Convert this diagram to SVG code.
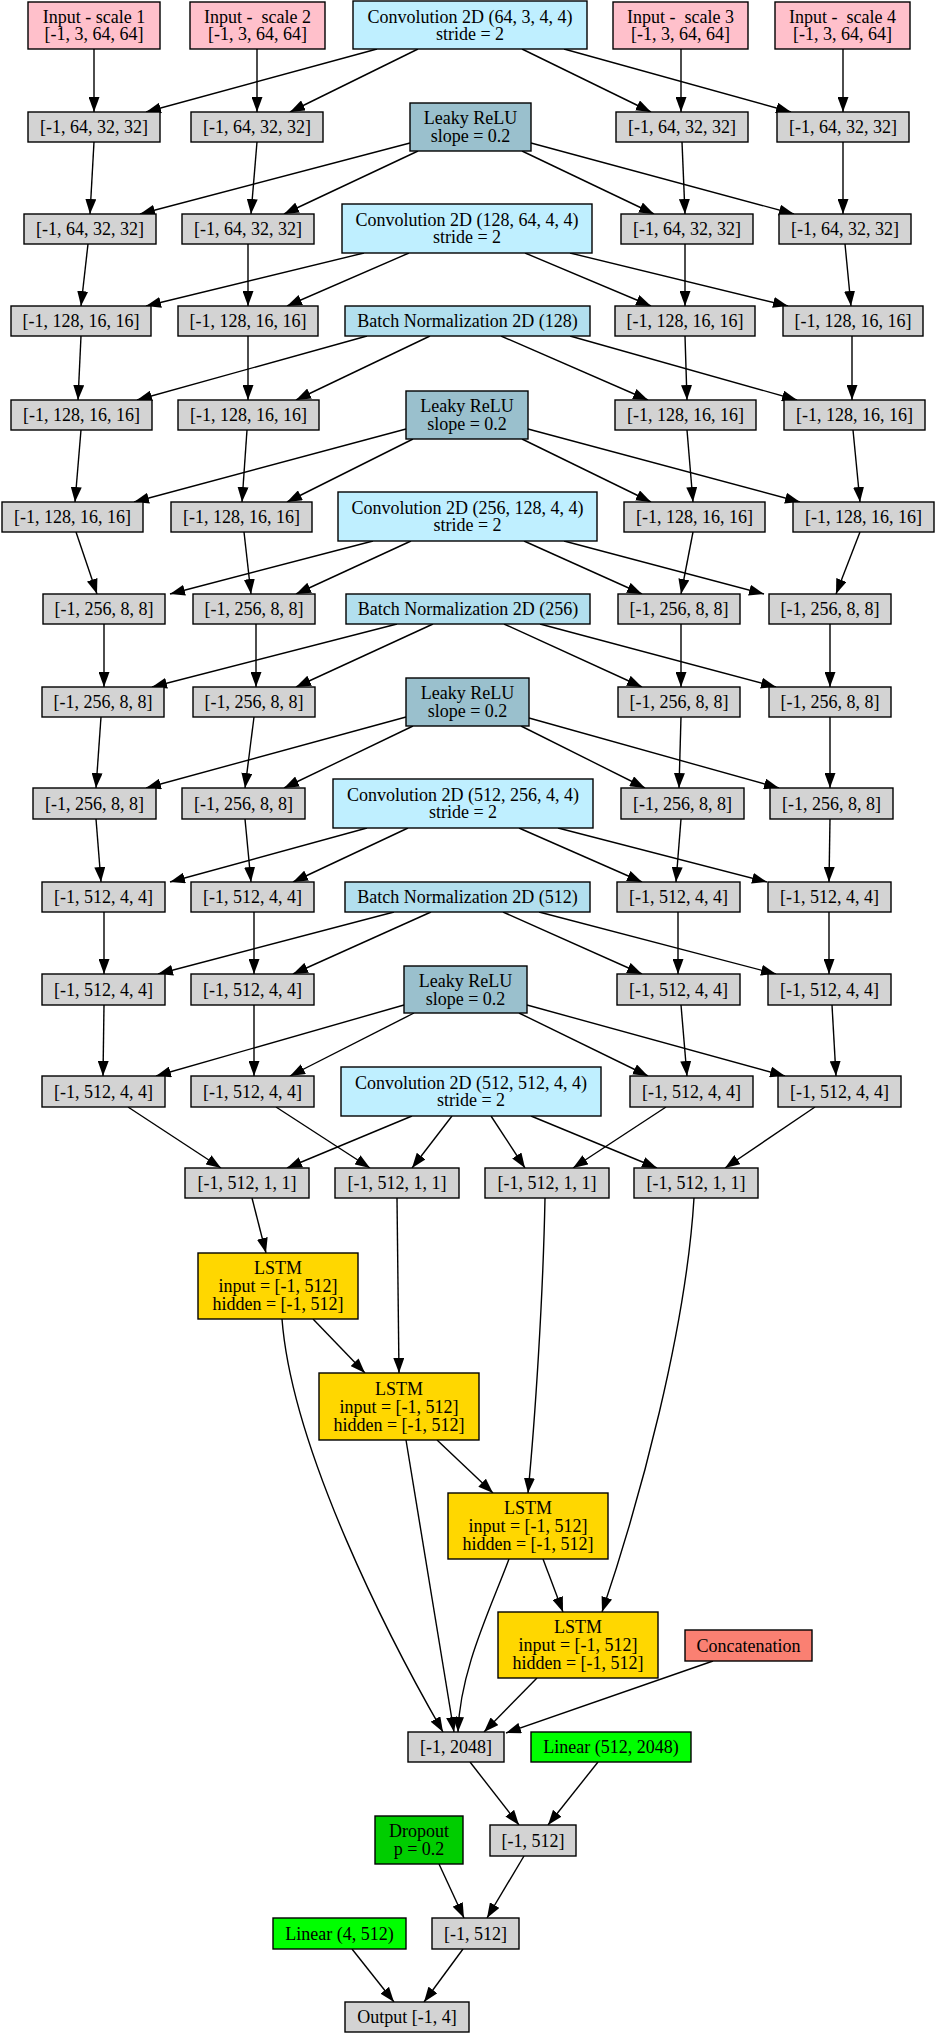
<svg xmlns="http://www.w3.org/2000/svg" width="936" height="2037" viewBox="0 0 936 2037">
<style>
rect{stroke:#000;stroke-width:1.4}
rect.bg{stroke:none;fill:#fff}
text{font-family:"Liberation Serif","Times New Roman",serif;font-size:18px;text-anchor:middle;dominant-baseline:central;fill:#000;white-space:pre}
.g{fill:#d3d3d3}.p{fill:#ffc0cb}.cv{fill:#bfefff}.bn{fill:#b2dfee}.lr{fill:#9ac0cd}.ls{fill:#ffd700}.ct{fill:#fa8072}.li{fill:#00ff00}.dr{fill:#00cd00}
#edges line,#edges path{stroke:#000;stroke-width:1.4;fill:none;marker-end:url(#ah)}
</style>
<defs><marker id="ah" markerUnits="userSpaceOnUse" markerWidth="15" markerHeight="11" viewBox="0 0 15 11" refX="15" refY="5.5" orient="auto"><path d="M0,0 L15,5.5 L0,11 z" fill="#000"/></marker></defs>
<rect class="bg" x="0" y="0" width="936" height="2037"/>
<g id="edges">
<line x1="94" y1="49" x2="94" y2="112"/><line x1="257" y1="49" x2="257" y2="112"/><line x1="681" y1="49" x2="681" y2="112"/><line x1="843" y1="49" x2="843" y2="112"/>
<line x1="377" y1="49" x2="146" y2="112"/><line x1="418" y1="49" x2="290" y2="112"/><line x1="522" y1="49" x2="651" y2="112"/><line x1="564" y1="49" x2="791" y2="112"/>
<line x1="94" y1="142" x2="90" y2="214"/><line x1="257" y1="142" x2="251" y2="214"/><line x1="682" y1="142" x2="685" y2="214"/><line x1="843" y1="142" x2="843" y2="214"/>
<line x1="410" y1="143" x2="140" y2="214"/><line x1="418" y1="151" x2="284" y2="214"/><line x1="522" y1="151" x2="654" y2="214"/><line x1="531" y1="143" x2="794" y2="214"/>
<line x1="88" y1="244" x2="81" y2="306"/><line x1="248" y1="244" x2="248" y2="306"/><line x1="685" y1="244" x2="685" y2="306"/><line x1="845" y1="244" x2="851" y2="306"/>
<line x1="364" y1="253" x2="146" y2="306"/><line x1="409" y1="253" x2="287" y2="306"/><line x1="525" y1="253" x2="651" y2="306"/><line x1="570" y1="253" x2="788" y2="306"/>
<line x1="81" y1="336" x2="78" y2="400"/><line x1="248" y1="336" x2="248" y2="400"/><line x1="685" y1="336" x2="687" y2="400"/><line x1="852" y1="336" x2="852" y2="400"/>
<line x1="367" y1="336" x2="137" y2="400"/><line x1="430" y1="336" x2="296" y2="400"/><line x1="501" y1="336" x2="648" y2="400"/><line x1="570" y1="336" x2="797" y2="400"/>
<line x1="81" y1="430" x2="75" y2="502"/><line x1="247" y1="430" x2="242" y2="502"/><line x1="687" y1="430" x2="693" y2="502"/><line x1="853" y1="430" x2="860" y2="502"/>
<line x1="406" y1="429" x2="134" y2="502"/><line x1="413" y1="439" x2="287" y2="502"/><line x1="522" y1="439" x2="651" y2="502"/><line x1="528" y1="429" x2="800" y2="502"/>
<line x1="76" y1="532" x2="97" y2="594"/><line x1="244" y1="532" x2="251" y2="594"/><line x1="693" y1="532" x2="681" y2="594"/><line x1="860" y1="532" x2="836" y2="594"/>
<line x1="373" y1="541" x2="170" y2="594"/><line x1="411" y1="541" x2="296" y2="594"/><line x1="524" y1="541" x2="642" y2="594"/><line x1="564" y1="541" x2="764" y2="594"/>
<line x1="104" y1="624" x2="104" y2="687"/><line x1="256" y1="624" x2="256" y2="687"/><line x1="681" y1="624" x2="681" y2="687"/><line x1="830" y1="624" x2="830" y2="687"/>
<line x1="397" y1="624" x2="152" y2="687"/><line x1="433" y1="624" x2="296" y2="687"/><line x1="504" y1="624" x2="642" y2="687"/><line x1="540" y1="624" x2="776" y2="687"/>
<line x1="101" y1="717" x2="96" y2="788"/><line x1="254" y1="717" x2="245" y2="788"/><line x1="681" y1="717" x2="679" y2="788"/><line x1="830" y1="717" x2="830" y2="788"/>
<line x1="406" y1="717" x2="146" y2="788"/><line x1="413" y1="726" x2="284" y2="788"/><line x1="521" y1="726" x2="645" y2="788"/><line x1="529" y1="718" x2="779" y2="788"/>
<line x1="96" y1="819" x2="101" y2="882"/><line x1="245" y1="819" x2="251" y2="882"/><line x1="681" y1="819" x2="676" y2="882"/><line x1="830" y1="819" x2="829" y2="882"/>
<line x1="367" y1="828" x2="170" y2="882"/><line x1="408" y1="828" x2="293" y2="882"/><line x1="519" y1="828" x2="642" y2="882"/><line x1="558" y1="828" x2="767" y2="882"/>
<line x1="104" y1="912" x2="104" y2="974"/><line x1="254" y1="912" x2="254" y2="974"/><line x1="678" y1="912" x2="678" y2="974"/><line x1="829" y1="912" x2="829" y2="974"/>
<line x1="394" y1="912" x2="158" y2="974"/><line x1="431" y1="912" x2="293" y2="974"/><line x1="503" y1="912" x2="642" y2="974"/><line x1="539" y1="912" x2="776" y2="974"/>
<line x1="104" y1="1005" x2="103" y2="1076"/><line x1="254" y1="1005" x2="254" y2="1076"/><line x1="681" y1="1005" x2="687" y2="1076"/><line x1="832" y1="1005" x2="836" y2="1076"/>
<line x1="404" y1="1005" x2="156" y2="1076"/><line x1="414" y1="1013" x2="290" y2="1076"/><line x1="519" y1="1013" x2="648" y2="1076"/><line x1="527" y1="1005" x2="785" y2="1076"/>
<line x1="128" y1="1107" x2="221" y2="1168"/><line x1="276" y1="1107" x2="370" y2="1168"/><line x1="666" y1="1107" x2="573" y2="1168"/><line x1="815" y1="1107" x2="725" y2="1168"/>
<line x1="412" y1="1116" x2="287" y2="1168"/><line x1="452" y1="1116" x2="412" y2="1168"/><line x1="491" y1="1116" x2="525" y2="1168"/><line x1="531" y1="1116" x2="657" y2="1168"/>
<line x1="252" y1="1198" x2="266" y2="1253"/>
<line x1="397" y1="1198" x2="399" y2="1373"/>
<path d="M545,1198 C543,1300 535,1420 528,1493"/>
<path d="M694,1198 C686,1330 640,1500 602,1612"/>
<line x1="313" y1="1319" x2="365" y2="1373"/>
<line x1="437" y1="1440" x2="493" y2="1493"/>
<line x1="543" y1="1559" x2="563" y2="1612"/>
<path d="M282,1319 C292,1450 390,1640 443,1732"/>
<line x1="406" y1="1440" x2="454" y2="1732"/>
<path d="M509,1559 C490,1610 460,1670 458,1732"/>
<line x1="537" y1="1678" x2="484" y2="1732"/>
<line x1="713" y1="1661" x2="506" y2="1733"/>
<line x1="470" y1="1762" x2="519" y2="1825"/>
<line x1="598" y1="1762" x2="548" y2="1825"/>
<line x1="524" y1="1856" x2="487" y2="1918"/>
<line x1="439" y1="1864" x2="464" y2="1918"/>
<line x1="463" y1="1949" x2="424" y2="2002"/>
<line x1="352" y1="1949" x2="394" y2="2002"/>
</g>
<g id="in1"><rect class="p" x="28" y="2" width="132" height="47"/><text x="94" y="16.5">Input - scale 1</text><text x="94" y="34">[-1, 3, 64, 64]</text></g>
<g id="in2"><rect class="p" x="190" y="2" width="135" height="47"/><text x="257.5" y="16.5">Input -  scale 2</text><text x="257.5" y="34">[-1, 3, 64, 64]</text></g>
<g id="conv1"><rect class="cv" x="353" y="1" width="234" height="48"/><text x="470" y="16.5">Convolution 2D (64, 3, 4, 4)</text><text x="470" y="34">stride = 2</text></g>
<g id="in3"><rect class="p" x="613" y="2" width="135" height="47"/><text x="680.5" y="16.5">Input -  scale 3</text><text x="680.5" y="34">[-1, 3, 64, 64]</text></g>
<g id="in4"><rect class="p" x="775" y="2" width="135" height="47"/><text x="842.5" y="16.5">Input -  scale 4</text><text x="842.5" y="34">[-1, 3, 64, 64]</text></g>

<g id="b1"><rect class="g" x="28" y="112" width="132" height="30"/><text x="94" y="127">[-1, 64, 32, 32]</text></g>
<g id="b2"><rect class="g" x="191" y="112" width="132" height="30"/><text x="257" y="127">[-1, 64, 32, 32]</text></g>
<g id="lrelu1"><rect class="lr" x="410" y="103" width="121" height="48"/><text x="470.5" y="118">Leaky ReLU</text><text x="470.5" y="135.5">slope = 0.2</text></g>
<g id="b3"><rect class="g" x="616" y="112" width="132" height="30"/><text x="682" y="127">[-1, 64, 32, 32]</text></g>
<g id="b4"><rect class="g" x="777" y="112" width="132" height="30"/><text x="843" y="127">[-1, 64, 32, 32]</text></g>

<g id="c1"><rect class="g" x="24" y="214" width="132" height="30"/><text x="90" y="229">[-1, 64, 32, 32]</text></g>
<g id="c2"><rect class="g" x="182" y="214" width="132" height="30"/><text x="248" y="229">[-1, 64, 32, 32]</text></g>
<g id="conv2"><rect class="cv" x="342" y="204" width="250" height="49"/><text x="467" y="219.5">Convolution 2D (128, 64, 4, 4)</text><text x="467" y="237">stride = 2</text></g>
<g id="c3"><rect class="g" x="621" y="214" width="132" height="30"/><text x="687" y="229">[-1, 64, 32, 32]</text></g>
<g id="c4"><rect class="g" x="779" y="214" width="132" height="30"/><text x="845" y="229">[-1, 64, 32, 32]</text></g>

<g id="d1"><rect class="g" x="11" y="306" width="140" height="30"/><text x="81" y="321">[-1, 128, 16, 16]</text></g>
<g id="d2"><rect class="g" x="178" y="306" width="140" height="30"/><text x="248" y="321">[-1, 128, 16, 16]</text></g>
<g id="bn128"><rect class="bn" x="345" y="306" width="245" height="30"/><text x="467.5" y="321">Batch Normalization 2D (128)</text></g>
<g id="d3"><rect class="g" x="615" y="306" width="140" height="30"/><text x="685" y="321">[-1, 128, 16, 16]</text></g>
<g id="d4"><rect class="g" x="783" y="306" width="140" height="30"/><text x="853" y="321">[-1, 128, 16, 16]</text></g>

<g id="e1"><rect class="g" x="11" y="400" width="141" height="30"/><text x="81.5" y="415">[-1, 128, 16, 16]</text></g>
<g id="e2"><rect class="g" x="178" y="400" width="141" height="30"/><text x="248.5" y="415">[-1, 128, 16, 16]</text></g>
<g id="lrelu2"><rect class="lr" x="406" y="391" width="122" height="48"/><text x="467" y="406">Leaky ReLU</text><text x="467" y="423.5">slope = 0.2</text></g>
<g id="e3"><rect class="g" x="615" y="400" width="141" height="30"/><text x="685.5" y="415">[-1, 128, 16, 16]</text></g>
<g id="e4"><rect class="g" x="784" y="400" width="141" height="30"/><text x="854.5" y="415">[-1, 128, 16, 16]</text></g>

<g id="f1"><rect class="g" x="2" y="502" width="141" height="30"/><text x="72.5" y="517">[-1, 128, 16, 16]</text></g>
<g id="f2"><rect class="g" x="171" y="502" width="141" height="30"/><text x="241.5" y="517">[-1, 128, 16, 16]</text></g>
<g id="conv3"><rect class="cv" x="338" y="492" width="259" height="49"/><text x="467.5" y="507.5">Convolution 2D (256, 128, 4, 4)</text><text x="467.5" y="525">stride = 2</text></g>
<g id="f3"><rect class="g" x="624" y="502" width="141" height="30"/><text x="694.5" y="517">[-1, 128, 16, 16]</text></g>
<g id="f4"><rect class="g" x="793" y="502" width="141" height="30"/><text x="863.5" y="517">[-1, 128, 16, 16]</text></g>

<g id="g1"><rect class="g" x="43" y="594" width="122" height="30"/><text x="104" y="609">[-1, 256, 8, 8]</text></g>
<g id="g2"><rect class="g" x="193" y="594" width="122" height="30"/><text x="254" y="609">[-1, 256, 8, 8]</text></g>
<g id="bn256"><rect class="bn" x="346" y="594" width="244" height="30"/><text x="468" y="609">Batch Normalization 2D (256)</text></g>
<g id="g3"><rect class="g" x="618" y="594" width="122" height="30"/><text x="679" y="609">[-1, 256, 8, 8]</text></g>
<g id="g4"><rect class="g" x="769" y="594" width="122" height="30"/><text x="830" y="609">[-1, 256, 8, 8]</text></g>

<g id="h1"><rect class="g" x="42" y="687" width="122" height="30"/><text x="103" y="702">[-1, 256, 8, 8]</text></g>
<g id="h2"><rect class="g" x="193" y="687" width="122" height="30"/><text x="254" y="702">[-1, 256, 8, 8]</text></g>
<g id="lrelu3"><rect class="lr" x="406" y="678" width="123" height="48"/><text x="467.5" y="693">Leaky ReLU</text><text x="467.5" y="710.5">slope = 0.2</text></g>
<g id="h3"><rect class="g" x="618" y="687" width="122" height="30"/><text x="679" y="702">[-1, 256, 8, 8]</text></g>
<g id="h4"><rect class="g" x="769" y="687" width="122" height="30"/><text x="830" y="702">[-1, 256, 8, 8]</text></g>

<g id="i1"><rect class="g" x="33" y="788" width="123" height="31"/><text x="94.5" y="803.5">[-1, 256, 8, 8]</text></g>
<g id="i2"><rect class="g" x="182" y="788" width="123" height="31"/><text x="243.5" y="803.5">[-1, 256, 8, 8]</text></g>
<g id="conv4"><rect class="cv" x="333" y="779" width="260" height="49"/><text x="463" y="794.5">Convolution 2D (512, 256, 4, 4)</text><text x="463" y="812">stride = 2</text></g>
<g id="i3"><rect class="g" x="621" y="788" width="123" height="31"/><text x="682.5" y="803.5">[-1, 256, 8, 8]</text></g>
<g id="i4"><rect class="g" x="770" y="788" width="123" height="31"/><text x="831.5" y="803.5">[-1, 256, 8, 8]</text></g>

<g id="j1"><rect class="g" x="42" y="882" width="123" height="30"/><text x="103.5" y="897">[-1, 512, 4, 4]</text></g>
<g id="j2"><rect class="g" x="191" y="882" width="123" height="30"/><text x="252.5" y="897">[-1, 512, 4, 4]</text></g>
<g id="bn512"><rect class="bn" x="345" y="882" width="245" height="30"/><text x="467.5" y="897">Batch Normalization 2D (512)</text></g>
<g id="j3"><rect class="g" x="617" y="882" width="123" height="30"/><text x="678.5" y="897">[-1, 512, 4, 4]</text></g>
<g id="j4"><rect class="g" x="768" y="882" width="123" height="30"/><text x="829.5" y="897">[-1, 512, 4, 4]</text></g>

<g id="k1"><rect class="g" x="42" y="974" width="123" height="31"/><text x="103.5" y="989.5">[-1, 512, 4, 4]</text></g>
<g id="k2"><rect class="g" x="191" y="974" width="123" height="31"/><text x="252.5" y="989.5">[-1, 512, 4, 4]</text></g>
<g id="lrelu4"><rect class="lr" x="404" y="966" width="123" height="47"/><text x="465.5" y="981">Leaky ReLU</text><text x="465.5" y="998.5">slope = 0.2</text></g>
<g id="k3"><rect class="g" x="617" y="974" width="123" height="31"/><text x="678.5" y="989.5">[-1, 512, 4, 4]</text></g>
<g id="k4"><rect class="g" x="768" y="974" width="123" height="31"/><text x="829.5" y="989.5">[-1, 512, 4, 4]</text></g>

<g id="l1"><rect class="g" x="42" y="1076" width="123" height="31"/><text x="103.5" y="1091.5">[-1, 512, 4, 4]</text></g>
<g id="l2"><rect class="g" x="191" y="1076" width="123" height="31"/><text x="252.5" y="1091.5">[-1, 512, 4, 4]</text></g>
<g id="conv5"><rect class="cv" x="341" y="1067" width="260" height="49"/><text x="471" y="1082.5">Convolution 2D (512, 512, 4, 4)</text><text x="471" y="1100">stride = 2</text></g>
<g id="l3"><rect class="g" x="630" y="1076" width="123" height="31"/><text x="691.5" y="1091.5">[-1, 512, 4, 4]</text></g>
<g id="l4"><rect class="g" x="778" y="1076" width="123" height="31"/><text x="839.5" y="1091.5">[-1, 512, 4, 4]</text></g>

<g id="m1"><rect class="g" x="185" y="1168" width="124" height="30"/><text x="247" y="1183">[-1, 512, 1, 1]</text></g>
<g id="m2"><rect class="g" x="335" y="1168" width="124" height="30"/><text x="397" y="1183">[-1, 512, 1, 1]</text></g>
<g id="m3"><rect class="g" x="485" y="1168" width="124" height="30"/><text x="547" y="1183">[-1, 512, 1, 1]</text></g>
<g id="m4"><rect class="g" x="634" y="1168" width="124" height="30"/><text x="696" y="1183">[-1, 512, 1, 1]</text></g>

<g id="lstm1"><rect class="ls" x="198" y="1253" width="160" height="66"/><text x="278" y="1268">LSTM</text><text x="278" y="1286">input = [-1, 512]</text><text x="278" y="1304">hidden = [-1, 512]</text></g>
<g id="lstm2"><rect class="ls" x="319" y="1373" width="160" height="67"/><text x="399" y="1388.5">LSTM</text><text x="399" y="1406.5">input = [-1, 512]</text><text x="399" y="1424.5">hidden = [-1, 512]</text></g>
<g id="lstm3"><rect class="ls" x="448" y="1493" width="160" height="66"/><text x="528" y="1508">LSTM</text><text x="528" y="1526">input = [-1, 512]</text><text x="528" y="1544">hidden = [-1, 512]</text></g>
<g id="lstm4"><rect class="ls" x="498" y="1612" width="160" height="66"/><text x="578" y="1627">LSTM</text><text x="578" y="1645">input = [-1, 512]</text><text x="578" y="1663">hidden = [-1, 512]</text></g>
<g id="concat"><rect class="ct" x="685" y="1630" width="127" height="31"/><text x="748.5" y="1645.5">Concatenation</text></g>
<g id="n2048"><rect class="g" x="408" y="1732" width="96" height="30"/><text x="456" y="1747">[-1, 2048]</text></g>
<g id="linear512"><rect class="li" x="531" y="1732" width="160" height="30"/><text x="611" y="1747">Linear (512, 2048)</text></g>
<g id="dropout"><rect class="dr" x="375" y="1816" width="88" height="48"/><text x="419" y="1831">Dropout</text><text x="419" y="1848.5">p = 0.2</text></g>
<g id="n512a"><rect class="g" x="490" y="1825" width="86" height="31"/><text x="533" y="1840.5">[-1, 512]</text></g>
<g id="linear4"><rect class="li" x="273" y="1918" width="133" height="31"/><text x="339.5" y="1933.5">Linear (4, 512)</text></g>
<g id="n512b"><rect class="g" x="432" y="1918" width="87" height="31"/><text x="475.5" y="1933.5">[-1, 512]</text></g>
<g id="output"><rect class="g" x="345" y="2002" width="124" height="30"/><text x="407" y="2017">Output [-1, 4]</text></g>
</svg>
